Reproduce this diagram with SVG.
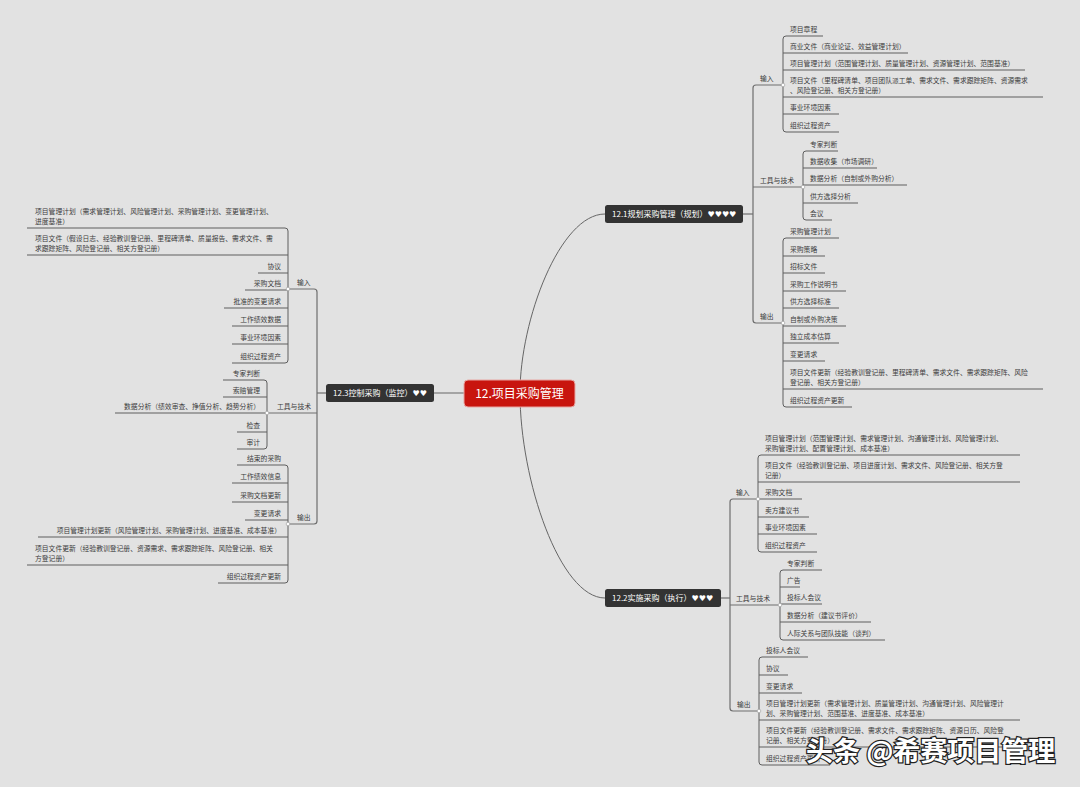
<svg xmlns="http://www.w3.org/2000/svg" width="1080" height="787" viewBox="0 0 1080 787">
<style>
.t{font-family:"Noto Sans CJK SC","Noto Sans",sans-serif;font-size:6.8px;fill:#3c3c3c}
.e{text-anchor:end}
.lb{font-family:"Noto Sans CJK SC","Noto Sans",sans-serif;font-size:6.8px;fill:#3c3c3c}
.ln{stroke:#5e5e5e;stroke-width:1;fill:none}
.tr{stroke:#6e6e6e;stroke-width:1.2;fill:none}
.cv{stroke:#666;stroke-width:1;fill:none}
.dot{fill:#fff;stroke:#999;stroke-width:0.6}
.nd{fill:#333;}
.nt{font-family:"Noto Sans CJK SC","Noto Sans",sans-serif;font-size:8px;fill:#fff}
.hr{font-family:"DejaVu Sans",sans-serif}
.wm{font-family:"Noto Sans CJK SC",sans-serif;font-size:27px;font-weight:bold;fill:#fff;stroke:#222;stroke-width:2.5;paint-order:stroke}
</style>
<rect width="1080" height="787" fill="#e2e2e2"/>

<g id="connectors">
<path class="cv" d="M520,393 C520,320 560,214 605,214"/>
<path class="cv" d="M520,393 C520,480 560,598 605,598"/>
<path class="cv" d="M464,393 H434"/>
<path class="tr" d="M743,214 H753"/>
<path class="tr" d="M783,85 H756 Q753,85 753,88 V320 Q753,323 756,323 H783"/>
<path class="tr" d="M753,187 H803"/>
<path class="ln" d="M823,36 H786 Q783,36 783,39 V129 Q783,132 786,132 H839"/>
<path class="ln" d="M783,53 H908 M783,70 H1025 M783,97 H1043 M783,114 H839"/>
<path class="ln" d="M838,151 H806 Q803,151 803,154 V217 Q803,220 806,220 H832"/>
<path class="ln" d="M803,168 H877 M803,185 H907 M803,203 H858"/>
<path class="ln" d="M839,238 H786 Q783,238 783,241 V404 Q783,407 786,407 H852"/>
<path class="ln" d="M783,256 H825 M783,273 H825 M783,291 H846 M783,308 H839 M783,326 H846 M783,343 H839 M783,361 H825 M783,389 H1043"/>
<path class="tr" d="M721,598 H730"/>
<path class="tr" d="M758,499 H733 Q730,499 730,502 V708 Q730,711 733,711 H759"/>
<path class="tr" d="M730,605 H780"/>
<path class="ln" d="M1020,455 H761 Q758,455 758,458 V549 Q758,552 761,552 H817"/>
<path class="ln" d="M758,482 H1020 M758,499 H802 M758,517 H809 M758,534 H817"/>
<path class="ln" d="M822,570 H783 Q780,570 780,573 V637 Q780,640 783,640 H885"/>
<path class="ln" d="M780,587 H800 M780,604 H822 M780,622 H871"/>
<path class="ln" d="M808,657 H762 Q759,657 759,660 V762 Q759,765 762,765 H830"/>
<path class="ln" d="M759,675 H788 M759,693 H802 M759,720 H1020 M759,747 H1020"/>
<path class="tr" d="M317,393 H326"/>
<path class="tr" d="M288,289 H314 Q317,289 317,292 V521 Q317,524 314,524 H288"/>
<path class="tr" d="M267,413 H317"/>
<path class="ln" d="M27,228 H285 Q288,228 288,231 V360 Q288,363 285,363 H232"/>
<path class="ln" d="M27,255 H288 M258,273 H288 M245,290 H288 M224,308 H288 M232,326 H288 M232,344 H288"/>
<path class="ln" d="M223,380 H264 Q267,380 267,383 V446 Q267,449 264,449 H237"/>
<path class="ln" d="M223,397 H267 M115,413 H267 M237,432 H267"/>
<path class="ln" d="M237,465 H285 Q288,465 288,468 V580 Q288,583 285,583 H218"/>
<path class="ln" d="M232,483 H288 M232,502 H288 M245,520 H288 M38,537 H288 M27,565 H288"/>
<circle class="dot" cx="783" cy="85" r="1.8"/>
<circle class="dot" cx="803" cy="187" r="1.8"/>
<circle class="dot" cx="783" cy="323" r="1.8"/>
<circle class="dot" cx="758" cy="499" r="1.8"/>
<circle class="dot" cx="780" cy="605" r="1.8"/>
<circle class="dot" cx="759" cy="711" r="1.8"/>
<circle class="dot" cx="288" cy="289" r="1.8"/>
<circle class="dot" cx="267" cy="413" r="1.8"/>
<circle class="dot" cx="288" cy="524" r="1.8"/>
</g>

<g id="root">
<rect x="464" y="380" width="111" height="27" rx="4" fill="#c8150e" stroke="#e8a6a2" stroke-width="1"/>
<text x="519.5" y="398" text-anchor="middle" font-family="Noto Sans CJK SC, sans-serif" font-size="12" fill="#fff">12.项目采购管理</text>
</g>

<g id="n12-1">
<rect class="nd" x="605" y="205" width="138" height="18" rx="2.5"/>
<text class="nt" x="612" y="217">12.1规划采购管理（规划）<tspan class="hr">♥♥♥♥</tspan></text>
</g>
<g id="n12-1-in">
<text class="lb" x="760" y="81">输入</text>
<text class="t" x="790" y="31.5">项目章程</text>
<text class="t" x="790" y="48.5">商业文件（商业论证、效益管理计划）</text>
<text class="t" x="790" y="65.5">项目管理计划（范围管理计划、质量管理计划、资源管理计划、范围基准）</text>
<text class="t" x="790" y="82.5">项目文件（里程碑清单、项目团队派工单、需求文件、需求跟踪矩阵、资源需求</text>
<text class="t" x="790" y="92.5">、风险登记册、相关方登记册）</text>
<text class="t" x="790" y="109.5">事业环境因素</text>
<text class="t" x="790" y="127.5">组织过程资产</text>
</g>
<g id="n12-1-tt">
<text class="lb" x="760" y="183">工具与技术</text>
<text class="t" x="810" y="146.5">专家判断</text>
<text class="t" x="810" y="163.5">数据收集（市场调研）</text>
<text class="t" x="810" y="180.5">数据分析（自制或外购分析）</text>
<text class="t" x="810" y="198.5">供方选择分析</text>
<text class="t" x="810" y="215.5">会议</text>
</g>
<g id="n12-1-out">
<text class="lb" x="760" y="319">输出</text>
<text class="t" x="790" y="233.5">采购管理计划</text>
<text class="t" x="790" y="251.5">采购策略</text>
<text class="t" x="790" y="268.5">招标文件</text>
<text class="t" x="790" y="286.5">采购工作说明书</text>
<text class="t" x="790" y="303.5">供方选择标准</text>
<text class="t" x="790" y="321.5">自制或外购决策</text>
<text class="t" x="790" y="338.5">独立成本估算</text>
<text class="t" x="790" y="356.5">变更请求</text>
<text class="t" x="790" y="374.5">项目文件更新（经验教训登记册、里程碑清单、需求文件、需求跟踪矩阵、风险</text>
<text class="t" x="790" y="384.5">登记册、相关方登记册）</text>
<text class="t" x="790" y="402.5">组织过程资产更新</text>
</g>

<g id="n12-2">
<rect class="nd" x="605" y="589" width="116" height="18" rx="2.5"/>
<text class="nt" x="612" y="601">12.2实施采购（执行）<tspan class="hr">♥♥♥</tspan></text>
</g>
<g id="n12-2-in">
<text class="lb" x="736" y="495">输入</text>
<text class="t" x="765" y="440.5">项目管理计划（范围管理计划、需求管理计划、沟通管理计划、风险管理计划、</text>
<text class="t" x="765" y="450.5">采购管理计划、配置管理计划、成本基准）</text>
<text class="t" x="765" y="467.5">项目文件（经验教训登记册、项目进度计划、需求文件、风险登记册、相关方登</text>
<text class="t" x="765" y="477.5">记册）</text>
<text class="t" x="765" y="494.5">采购文档</text>
<text class="t" x="765" y="512.5">卖方建议书</text>
<text class="t" x="765" y="529.5">事业环境因素</text>
<text class="t" x="765" y="547.5">组织过程资产</text>
</g>
<g id="n12-2-tt">
<text class="lb" x="736" y="601">工具与技术</text>
<text class="t" x="787" y="565.5">专家判断</text>
<text class="t" x="787" y="582.5">广告</text>
<text class="t" x="787" y="599.5">投标人会议</text>
<text class="t" x="787" y="617.5">数据分析（建议书评价）</text>
<text class="t" x="787" y="635.5">人际关系与团队技能（谈判）</text>
</g>
<g id="n12-2-out">
<text class="lb" x="737" y="707">输出</text>
<text class="t" x="766" y="652.5">投标人会议</text>
<text class="t" x="766" y="670.5">协议</text>
<text class="t" x="766" y="688.5">变更请求</text>
<text class="t" x="766" y="705.5">项目管理计划更新（需求管理计划、质量管理计划、沟通管理计划、风险管理计</text>
<text class="t" x="766" y="715.5">划、采购管理计划、范围基准、进度基准、成本基准）</text>
<text class="t" x="766" y="732.5">项目文件更新（经验教训登记册、需求文件、需求跟踪矩阵、资源日历、风险登</text>
<text class="t" x="766" y="742.5">记册、相关方登记册）</text>
<text class="t" x="766" y="760.5">组织过程资产更新</text>
</g>

<g id="n12-3">
<rect class="nd" x="326" y="384" width="108" height="18" rx="2.5"/>
<text class="nt" x="333" y="396">12.3控制采购（监控）<tspan class="hr">♥♥</tspan></text>
</g>
<g id="n12-3-in">
<text class="lb" x="297" y="285">输入</text>
<text class="t" x="35" y="213.5">项目管理计划（需求管理计划、风险管理计划、采购管理计划、变更管理计划、</text>
<text class="t" x="35" y="223.5">进度基准）</text>
<text class="t" x="35" y="240.5">项目文件（假设日志、经验教训登记册、里程碑清单、质量报告、需求文件、需</text>
<text class="t" x="35" y="250.5">求跟踪矩阵、风险登记册、相关方登记册）</text>
<text class="t e" x="281" y="268.5">协议</text>
<text class="t e" x="281" y="285.5">采购文档</text>
<text class="t e" x="281" y="303.5">批准的变更请求</text>
<text class="t e" x="281" y="321.5">工作绩效数据</text>
<text class="t e" x="281" y="339.5">事业环境因素</text>
<text class="t e" x="281" y="358.5">组织过程资产</text>
</g>
<g id="n12-3-tt">
<text class="lb" x="277" y="409">工具与技术</text>
<text class="t e" x="260" y="375.5">专家判断</text>
<text class="t e" x="260" y="392.5">索赔管理</text>
<text class="t e" x="260" y="408.5">数据分析（绩效审查、挣值分析、趋势分析）</text>
<text class="t e" x="260" y="427.5">检查</text>
<text class="t e" x="260" y="444.5">审计</text>
</g>
<g id="n12-3-out">
<text class="lb" x="297" y="520">输出</text>
<text class="t e" x="281" y="460.5">结束的采购</text>
<text class="t e" x="281" y="478.5">工作绩效信息</text>
<text class="t e" x="281" y="497.5">采购文档更新</text>
<text class="t e" x="281" y="515.5">变更请求</text>
<text class="t e" x="281" y="532.5">项目管理计划更新（风险管理计划、采购管理计划、进度基准、成本基准）</text>
<text class="t" x="35" y="550.5">项目文件更新（经验教训登记册、资源需求、需求跟踪矩阵、风险登记册、相关</text>
<text class="t" x="35" y="560.5">方登记册）</text>
<text class="t e" x="281" y="578.5">组织过程资产更新</text>
</g>

<text class="wm" x="806" y="761">头条 @希赛项目管理</text>
</svg>
